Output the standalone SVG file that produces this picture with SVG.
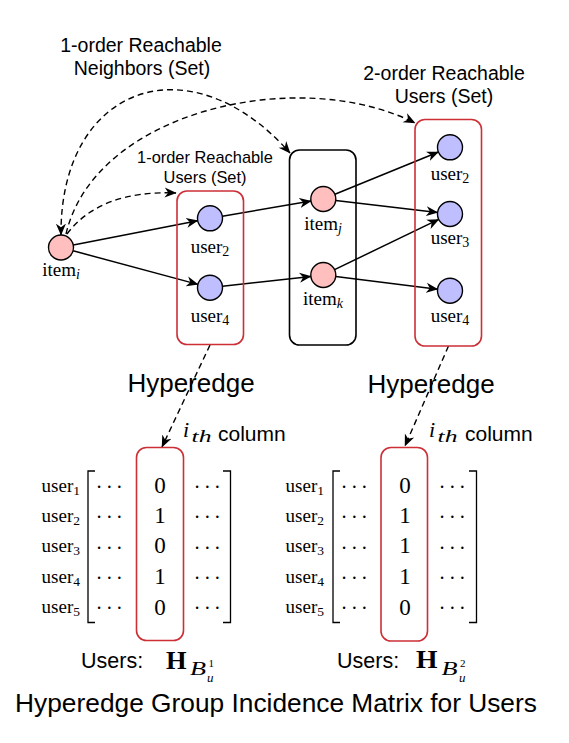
<svg xmlns="http://www.w3.org/2000/svg" width="569" height="743" viewBox="0 0 569 743">
<style>
.sans{font-family:"Liberation Sans",Arial,sans-serif;fill:#000}
.serif{font-family:"Liberation Serif","Times New Roman",serif;fill:#000}
.item{fill:#ffbfbf;stroke:#000;stroke-width:1.4}
.user{fill:#bfbfff;stroke:#000;stroke-width:1.4}
.redbox{fill:none;stroke:#cc2f36;stroke-width:1.6}
.blkbox{fill:none;stroke:#000;stroke-width:1.6}
.edge{fill:none;stroke:#000;stroke-width:1.5;marker-end:url(#ah)}
.dash{fill:none;stroke:#000;stroke-width:1.4;stroke-dasharray:6 4;marker-end:url(#ah)}
.br{fill:none;stroke:#000;stroke-width:1.3}
</style>
<defs>
<marker id="ah" viewBox="0 0 10 10" refX="9.5" refY="5" markerWidth="12" markerHeight="12" markerUnits="userSpaceOnUse" orient="auto-start-reverse">
<path d="M0,0.8 L10,5 L0,9.2 L3,5 z" fill="#000"/>
</marker>
</defs>

<!-- labels -->
<g id="labels">
<text class="sans" x="141" y="52" font-size="19.5" text-anchor="middle">1-order Reachable</text>
<text class="sans" x="142" y="75" font-size="19.5" text-anchor="middle">Neighbors (Set)</text>
<text class="sans" x="444" y="80" font-size="19.5" text-anchor="middle">2-order Reachable</text>
<text class="sans" x="444" y="103" font-size="19.5" text-anchor="middle">Users (Set)</text>
<text class="sans" x="205" y="163" font-size="16.4" text-anchor="middle">1-order Reachable</text>
<text class="sans" x="205" y="183" font-size="16.4" text-anchor="middle">Users (Set)</text>
<text class="sans" x="191" y="392" font-size="26" text-anchor="middle">Hyperedge</text>
<text class="sans" x="431" y="393" font-size="26" text-anchor="middle">Hyperedge</text>
</g>

<!-- connectors -->
<g id="connectors">
<path class="dash" style="marker-start:url(#ah)" d="M61,235 C60,85 190,40 290,153"/>
<path class="dash" d="M66,234 C95,110 300,65 415,123"/>
<path class="dash" d="M67,234 Q100,190 176,193"/>
<path class="edge" d="M73.3,245.1 L197.7,220.7"/>
<path class="edge" d="M73.1,250.8 L197.9,284.4"/>
<path class="edge" d="M222.3,216.2 L311,201.1"/>
<path class="edge" d="M222.4,286.3 L310.9,276.4"/>
<path class="edge" d="M334.9,194.3 L438.4,152"/>
<path class="edge" d="M335.7,200.5 L437.6,212.5"/>
<path class="edge" d="M334.6,269.6 L438.7,219.4"/>
<path class="edge" d="M335.7,276.5 L437.6,289.2"/>
<path class="dash" d="M210,345 L162,447"/>
<path class="dash" d="M448.5,346 L405,446"/>
</g>

<!-- groups / hyperedges -->
<g id="box-1order">
<rect class="redbox" x="177" y="191" width="66.5" height="153.5" rx="10"/>
</g>
<g id="box-items">
<rect class="blkbox" x="289.5" y="150" width="66.5" height="195" rx="10"/>
</g>
<g id="box-2order">
<rect class="redbox" x="415" y="119.5" width="66.5" height="226.5" rx="10"/>
</g>

<!-- nodes -->
<g id="item-i">
<circle class="item" cx="61" cy="247.5" r="12.5"/>
<text class="serif" x="61" y="276" font-size="19" text-anchor="middle">item<tspan font-size="14" font-style="italic" dy="3">i</tspan></text>
</g>
<g id="user2-a">
<circle class="user" cx="210" cy="218.3" r="12.5"/>
<text class="serif" x="210" y="253" font-size="19" text-anchor="middle">user<tspan font-size="14" dy="3">2</tspan></text>
</g>
<g id="user4-a">
<circle class="user" cx="210" cy="287.7" r="12.5"/>
<text class="serif" x="210" y="322" font-size="19" text-anchor="middle">user<tspan font-size="14" dy="3">4</tspan></text>
</g>
<g id="item-j">
<circle class="item" cx="323.3" cy="199" r="12.5"/>
<text class="serif" x="323" y="230" font-size="19" text-anchor="middle">item<tspan font-size="14" font-style="italic" dy="3">j</tspan></text>
</g>
<g id="item-k">
<circle class="item" cx="323.3" cy="275" r="12.5"/>
<text class="serif" x="323" y="305" font-size="19" text-anchor="middle">item<tspan font-size="14" font-style="italic" dy="3">k</tspan></text>
</g>
<g id="user2-b">
<circle class="user" cx="450" cy="147.3" r="12.5"/>
<text class="serif" x="450" y="180" font-size="19" text-anchor="middle">user<tspan font-size="14" dy="3">2</tspan></text>
</g>
<g id="user3-b">
<circle class="user" cx="450" cy="214" r="12.5"/>
<text class="serif" x="450" y="244" font-size="19" text-anchor="middle">user<tspan font-size="14" dy="3">3</tspan></text>
</g>
<g id="user4-b">
<circle class="user" cx="450" cy="290.7" r="12.5"/>
<text class="serif" x="450" y="322" font-size="19" text-anchor="middle">user<tspan font-size="14" dy="3">4</tspan></text>
</g>

<!-- matrix 1 -->
<g id="matrix-1">
<text class="serif" x="183" y="437" font-size="22" font-style="italic">i</text>
<text class="serif" x="191.5" y="442" font-size="17" font-style="italic" textLength="20" lengthAdjust="spacingAndGlyphs">th</text>
<text class="sans" x="218" y="441" font-size="21">column</text>
<rect class="redbox" x="136.5" y="447.5" width="47" height="193" rx="10"/>
<path class="br" d="M95,471 H88 V622.5 H95"/>
<path class="br" d="M223,471 H230.5 V622.5 H223"/>
<g class="serif" font-size="19" text-anchor="end">
<text x="80" y="492">user<tspan font-size="13.5" dy="3">1</tspan></text>
<text x="80" y="522">user<tspan font-size="13.5" dy="3">2</tspan></text>
<text x="80" y="552">user<tspan font-size="13.5" dy="3">3</tspan></text>
<text x="80" y="583">user<tspan font-size="13.5" dy="3">4</tspan></text>
<text x="80" y="613">user<tspan font-size="13.5" dy="3">5</tspan></text>
</g>
<g class="serif" font-size="23" text-anchor="middle">
<text x="160" y="493">0</text>
<text x="160" y="523">1</text>
<text x="160" y="553">0</text>
<text x="160" y="584">1</text>
<text x="160" y="615">0</text>
</g>
<g class="serif" font-size="20" text-anchor="middle" letter-spacing="3.5">
<text x="111" y="494">···</text><text x="209" y="494">···</text>
<text x="111" y="524">···</text><text x="209" y="524">···</text>
<text x="111" y="555">···</text><text x="209" y="555">···</text>
<text x="111" y="585">···</text><text x="209" y="585">···</text>
<text x="111" y="615">···</text><text x="209" y="615">···</text>
</g>
<text class="sans" x="81" y="668" font-size="21.5">Users:</text>
<text class="serif" x="166" y="669" font-size="25" font-weight="bold" textLength="20.5" lengthAdjust="spacingAndGlyphs">H</text>
<text class="serif" x="190" y="675" font-size="19" font-style="italic" textLength="16" lengthAdjust="spacingAndGlyphs">B</text>
<text class="serif" x="208.5" y="667" font-size="11">1</text>
<text class="serif" x="207" y="682" font-size="13" font-style="italic">u</text>
</g>

<!-- matrix 2 -->
<g id="matrix-2">
<text class="serif" x="429" y="437" font-size="22" font-style="italic">i</text>
<text class="serif" x="437.5" y="442" font-size="17" font-style="italic" textLength="20" lengthAdjust="spacingAndGlyphs">th</text>
<text class="sans" x="465" y="441" font-size="21">column</text>
<rect class="redbox" x="381" y="447.5" width="46.5" height="193.5" rx="10"/>
<path class="br" d="M340,471 H333 V622.5 H340"/>
<path class="br" d="M469,471 H476.5 V622.5 H469"/>
<g class="serif" font-size="19" text-anchor="end">
<text x="324" y="492">user<tspan font-size="13.5" dy="3">1</tspan></text>
<text x="324" y="522">user<tspan font-size="13.5" dy="3">2</tspan></text>
<text x="324" y="552">user<tspan font-size="13.5" dy="3">3</tspan></text>
<text x="324" y="583">user<tspan font-size="13.5" dy="3">4</tspan></text>
<text x="324" y="613">user<tspan font-size="13.5" dy="3">5</tspan></text>
</g>
<g class="serif" font-size="23" text-anchor="middle">
<text x="405" y="493">0</text>
<text x="405" y="523">1</text>
<text x="405" y="553">1</text>
<text x="405" y="584">1</text>
<text x="405" y="615">0</text>
</g>
<g class="serif" font-size="20" text-anchor="middle" letter-spacing="3.5">
<text x="356" y="494">···</text><text x="454" y="494">···</text>
<text x="356" y="524">···</text><text x="454" y="524">···</text>
<text x="356" y="555">···</text><text x="454" y="555">···</text>
<text x="356" y="585">···</text><text x="454" y="585">···</text>
<text x="356" y="615">···</text><text x="454" y="615">···</text>
</g>
<text class="sans" x="337" y="668" font-size="21.5">Users:</text>
<text class="serif" x="416" y="668" font-size="25" font-weight="bold" textLength="21.5" lengthAdjust="spacingAndGlyphs">H</text>
<text class="serif" x="441.5" y="675" font-size="19" font-style="italic" textLength="16" lengthAdjust="spacingAndGlyphs">B</text>
<text class="serif" x="460" y="667" font-size="11">2</text>
<text class="serif" x="459" y="682" font-size="13" font-style="italic">u</text>
</g>

<text class="sans" x="276" y="712" font-size="26.3" text-anchor="middle">Hyperedge Group Incidence Matrix for Users</text>
</svg>
